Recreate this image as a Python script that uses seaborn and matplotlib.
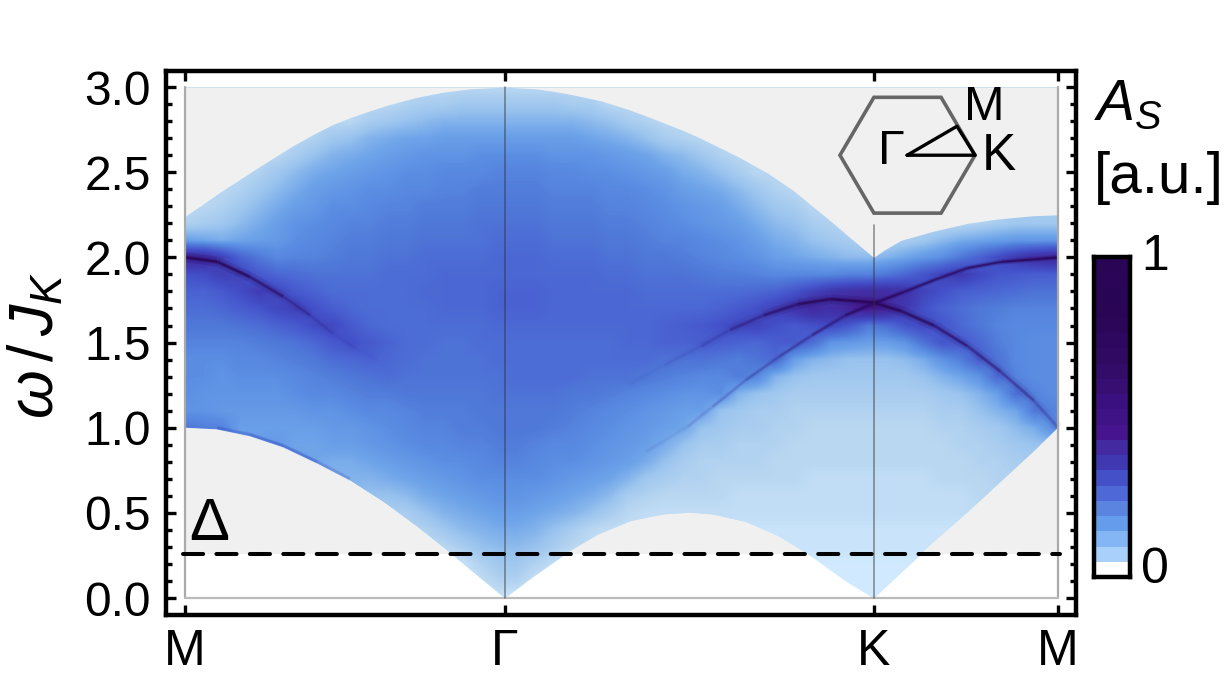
import numpy as np
import seaborn as sns
import matplotlib
matplotlib.use("Agg")
import matplotlib.pyplot as plt
from matplotlib.colors import LinearSegmentedColormap, ListedColormap, to_rgb
from matplotlib.patches import Rectangle
from matplotlib.ticker import MultipleLocator

# ---- values ----
tick_positions = [0.0, 0.866, 1.866, 2.366]
tick_names = ["M", "Γ", "K", "M"]
gap = 0.258

# intensity (percent), rows omega = 3.0 ... 0.0 in steps of 0.1, columns path = 0 ... 2.35 in steps of 0.05
field_rows = [
 [6]*48,
 [6]*11+[6,7,8,8,9,9,9,9,9,9,8,8,6],
 [6]*9+[6,8,9,10,11,12,12,12,12,12,12,12,12,11,10,8,7,6],
 [6]*6+[6,7,9,10,12,13,14,14,15,15,15,15,15,15,15,15,14,13,12,10,8,7,6],
 [6]*5+[6,8,10,12,13,14,15,16,17,17,17,18,18,18,18,17,17,17,16,15,14,12,11,9,7,6],
 [6]*3+[6,7,9,11,13,14,15,16,17,18,18,19,19,19,20,20,20,19,19,18,18,17,16,15,13,12,10,8,6],
 [6]*2+[6,7,9,11,13,15,16,17,18,18,19,19,20,20,21,21,21,21,20,20,20,19,19,18,17,15,14,13,11,9,7,6],
 [6,6,7,9,11,13,15,16,18,18,19,20,20,21,21,21,22,22,22,22,21,21,21,20,20,19,18,17,16,15,13,11,9,8,6,6,6,6,6,6,6,6,6,6,7,8,8,8],
 [7,8,9,11,13,15,17,18,19,20,20,21,21,22,22,22,23,23,23,23,22,22,22,21,21,20,19,18,17,16,15,13,11,10,8,7,6,6,6,6,6,6,6,7,8,9,9,9],
 [15,14,13,14,15,16,18,19,20,21,21,22,22,23,23,23,23,24,24,24,23,23,23,22,22,21,20,20,19,18,17,15,13,12,10,9,8,7,7,8,9,11,13,14,15,16,16,16],
 [42,41,34,26,22,19,20,20,21,22,22,23,23,24,24,24,24,25,25,25,24,24,24,23,23,22,22,21,20,19,18,17,15,14,13,12,11,11,12,14,16,18,22,26,31,36,40,42],
 [30,31,34,33,28,25,24,23,23,23,23,24,24,24,25,25,25,25,25,25,25,25,25,24,24,23,23,23,22,21,21,20,19,19,19,19,20,20,22,25,29,33,36,32,29,28,27,27],
 [26,26,28,31,35,32,28,26,24,24,24,24,24,25,25,25,25,26,26,26,25,25,25,25,25,24,24,24,24,24,24,25,26,29,33,37,39,40,40,38,33,30,27,26,25,24,23,23],
 [24,24,25,27,29,32,34,30,27,25,24,24,24,24,25,25,25,26,26,26,25,25,25,25,25,25,25,25,25,26,28,30,34,38,42,40,44,48,44,36,30,26,24,22,21,20,20,20],
 [22,22,22,23,24,26,28,31,32,28,25,24,24,24,24,24,24,25,25,25,25,25,25,25,25,25,26,27,28,30,32,33,30,28,30,32,28,22,24,29,32,29,25,22,20,19,19,19],
 [20,20,20,20,21,22,23,25,28,30,28,26,24,24,23,23,24,24,24,24,24,24,24,24,25,25,26,26,27,27,26,25,27,28,24,17,16,15,15,17,23,29,28,25,21,19,18,18],
 [18,18,18,19,19,20,21,22,24,25,26,25,24,23,23,23,23,24,24,24,24,24,24,24,24,24,23,23,23,22,21,23,25,15,12,11,10,10,10,11,13,17,21,27,23,19,18,18],
 [18,18,17,18,18,18,19,20,21,22,23,24,23,23,23,23,23,23,24,24,24,24,23,23,23,22,21,20,19,19,21,19,12,10,9,9,9,9,9,9,10,12,14,17,25,20,18,18],
 [18,17,17,17,17,17,18,19,19,20,21,21,22,22,22,22,22,23,23,23,23,22,22,21,20,19,18,17,17,18,12,10,9,8,8,8,8,8,8,8,8,9,10,12,15,24,20,18],
 [17,17,16,16,16,16,16,17,17,18,19,19,20,21,21,21,22,22,22,22,22,21,20,19,18,17,16,15,15,10,9,8,8,7,7,7,7,7,7,7,7,8,8,10,12,14,22,20],
 [22,21,20,15,15,15,15,15,16,16,17,18,19,20,20,21,21,22,22,22,21,20,19,18,17,16,15,14,10,9,8,8,7,7,6,6,6,6,6,6,6,7,7,8,9,11,13,18],
 [15,15,15,15,15,16,14,14,15,15,16,17,18,19,19,20,20,21,21,20,19,19,18,17,16,15,13,10,8,8,7,7,7,6,6,6,6,6,6,6,6,6,7,7,8,9,10,10],
 [15,15,15,15,15,15,15,14,13,13,14,15,16,17,18,18,19,20,20,19,18,18,17,16,15,13,10,8,7,7,7,7,6,6,6,6,6,6,6,6,6,6,6,7,7,8,8,8],
 [13]*8+[12,12,12,13,14,15,16,17,18,18,18,18,17,16,15,14,12,9,8,7,7,6,6,6,6,6,5,5,5,5,5,5,5,6,6,6,7,7,7,7],
 [11]*10+[10,10,11,13,14,15,16,17,17,16,15,14,13,11,8,7,6,6,6,6,5,5,5,5,5,5,5,5,5,5,5,5,5,6,6,6,6,6],
 [9]*11+[8,8,10,12,13,14,15,15,14,13,12,10,8,6]+[5]*23,
 [7]*13+[7,9,11,12,13,13,12,10,8,6,5,5]+[4]*23,
 [6]*15+[8,10,11,11,10,8,6,5]+[4]*25,
 [4]*16+[7,9,9,7,5,4]+[3]*26,
 [3]*16+[5,7,7,4]+[3]*28,
 [3]*17+[4]+[3]*30,
]
path_step = 0.05
omega_step = 0.1

# edges of the continuum
upper_x = [0,.05,.1,.15,.2,.266,.3,.35,.4,.447,.5,.55,.628,.7,.772,.866,.95,1.0,1.05,1.126,1.2,1.262,1.35,1.397,1.5,1.579,1.65,1.757,1.8,1.866,1.9,1.94,2.03,2.12,2.2,2.3,2.366]
upper_w = [2.24,2.315,2.39,2.46,2.53,2.62,2.665,2.725,2.78,2.82,2.86,2.895,2.94,2.97,2.99,3.0,2.99,2.975,2.955,2.92,2.87,2.82,2.745,2.70,2.59,2.495,2.39,2.20,2.12,2.0,2.05,2.10,2.155,2.20,2.225,2.245,2.25]
lower_x = [0,.087,.176,.266,.358,.447,.537,.628,.718,.81,.866,.936,1.026,1.118,1.207,1.297,1.37,1.43,1.52,1.61,1.70,1.79,1.866,1.94,2.03,2.12,2.21,2.30,2.366]
lower_w = [1.0,.99,.95,.885,.79,.69,.565,.42,.265,.10,0,.115,.252,.37,.45,.49,.50,.49,.445,.36,.24,.10,0,.15,.33,.50,.68,.86,1.0]

# sharp ridges: path position, omega, strength
ridge_left_x = [0,.087,.176,.266,.339,.40,.46,.52]
ridge_left_w = [2.0,1.975,1.885,1.77,1.66,1.556,1.47,1.40]
ridge_left_s = [1,1,.9,.65,.4,.2,.08,.02]
ridge_a_x = [1.20,1.30,1.40,1.477,1.568,1.66,1.75,1.866,1.94,2.03,2.12,2.21,2.30,2.366]
ridge_a_w = [1.25,1.37,1.48,1.574,1.66,1.725,1.755,1.735,1.685,1.60,1.48,1.33,1.16,1.0]
ridge_a_s = [.02,.06,.2,.4,.7,.9,1,1,.95,.85,.7,.6,.45,.25]
ridge_b_x = [1.25,1.362,1.43,1.52,1.61,1.70,1.79,1.866,1.94,2.03,2.12,2.21,2.366]
ridge_b_w = [.86,1.006,1.123,1.28,1.417,1.544,1.66,1.73,1.79,1.867,1.937,1.973,2.0]
ridge_b_s = [.03,.1,.2,.3,.4,.55,.8,1,.9,.85,.85,.95,1]
ridge_edge_x = [.087,.176,.266,.358,.447]
ridge_edge_w = [1.0,.96,.895,.80,.70]
ridge_edge_s = [.2,.35,.4,.3,.1]

# inset Brillouin zone (in plot units)
hex_x = [2.141,2.049,1.867,1.775,1.867,2.049,2.141]
hex_w = [2.60,2.94,2.94,2.60,2.26,2.26,2.60]
path_x = [1.957,2.141,2.092,1.957]
path_w = [2.60,2.60,2.77,2.60]

# colour levels
bar_levels = ["#ffffff","#a9d0fa","#84b6f6","#659cec","#5b83e0","#4e68d8","#4350c8","#4038b0",
              "#432aa0","#47148f","#3f1285","#3a1080","#380e72","#330c6a","#300a62","#2e085e",
              "#2c0658","#2a0555","#290555","#2b0558","#2a0555"]
map_nodes = [0,3,6,10,14,18,22,26,30,36,42,48,55,70,100]
map_colors = ["#ffffff","#cfe9fe","#b9d7f1","#98c2ee","#6ea4e9","#5b8ee3","#4f78d8","#4a62d2",
              "#4350c8","#4038b0","#432aa0","#47148f","#3f1285","#320c64","#240040"]

# ---- figure ----
sns.set_theme(style="ticks")
plt.rcParams["font.family"] = ["Liberation Sans", "DejaVu Sans"]
plt.rcParams["text.color"] = "black"
plt.rcParams["mathtext.fontset"] = "custom"
plt.rcParams["mathtext.rm"] = "Liberation Sans"
plt.rcParams["mathtext.it"] = "Liberation Sans:italic"
plt.rcParams["mathtext.bf"] = "Liberation Sans:bold"

W, H = 1225, 691
fig = plt.figure(figsize=(W/100, H/100), dpi=100, facecolor="white")
ax = fig.add_axes([166/W, 1-615/H, 910/W, 544/H])
ax.set_facecolor("white")

Z = np.array([(r + [r[-1]]*48)[:48] for r in field_rows], dtype=float)
cmap = LinearSegmentedColormap.from_list("as", [(n/100, c) for n, c in zip(map_nodes, map_colors)], N=512)
ext = (-path_step/2, 47*path_step+path_step/2, -omega_step/2, 3+omega_step/2)
im = ax.imshow(Z, origin="upper", extent=ext, aspect="auto", cmap=cmap, vmin=0, vmax=100,
               interpolation="bilinear", zorder=1)
im.set_clip_path(Rectangle((0, 0), 2.366, 3.0, transform=ax.transData))

# regions outside the continuum
GRAY = "#f0f0f0"
lx, lw_ = np.array(lower_x), np.array(lower_w)
ax.fill_between(upper_x, upper_w, 3.0, color=GRAY, lw=0, zorder=2)
ax.fill_between(lx, 0, lw_, color="white", lw=0, zorder=2)
ax.fill_between(lx, gap, lw_, where=lw_ > gap, interpolate=True, color=GRAY, lw=0, zorder=2.1)


def ridge(xs, ws, ss, color="#2a0558", faint="#3838b0", core=1.7, halo=7.0):
    dark, pale = np.array(to_rgb(color)), np.array(to_rgb(faint))
    for i in range(len(xs)-1):
        s = (ss[i]+ss[i+1])/2
        c = tuple(pale + (dark-pale)*s)
        for lw, a in ((halo, 0.18*s), (core*2.0, 0.3*s), (core, 0.85*s)):
            sns.lineplot(x=xs[i:i+2], y=ws[i:i+2], ax=ax, color=c, lw=lw, alpha=a, sort=False,
                         estimator=None, legend=False, zorder=3, solid_capstyle="butt")


ridge(ridge_left_x, ridge_left_w, ridge_left_s)
ridge(ridge_a_x, ridge_a_w, ridge_a_s)
ridge(ridge_b_x, ridge_b_w, ridge_b_s, core=1.3, halo=4.0)
ridge(ridge_edge_x, ridge_edge_w, ridge_edge_s, color="#3040c0", faint="#3040c0", core=1.5, halo=2.5)

# grid-like reference lines
ax.plot([0, 0], [0, 3], color="#aaaaaa", lw=1.6, zorder=4)
ax.plot([2.366, 2.366], [0, 3], color="#aaaaaa", lw=1.6, zorder=4)
ax.plot([0, 2.366], [0, 0], color="#bbbbbb", lw=1.6, zorder=4)
ax.plot([.866, .866], [0, 3], color="#303030", lw=1.2, alpha=.5, zorder=4)
ax.plot([1.866, 1.866], [0, 2.19], color="#303030", lw=1.2, alpha=.5, zorder=4)

# gap line
ax.plot([-0.005, 2.37], [gap, gap], color="black", lw=2.9, linestyle=(0, (5.0, 3.3)),
        dash_capstyle="round", zorder=5)
ax.text(0.012, 0.43, "Δ", fontsize=43, color="black", ha="left", va="center", zorder=6)

# inset
ax.plot(hex_x, hex_w, color="#666666", lw=2.6, zorder=5, solid_joinstyle="miter")
ax.plot(path_x, path_w, color="black", lw=2.4, zorder=6)
ax.text(2.11, 2.88, "M", fontsize=35, ha="left", va="center", zorder=6)
ax.text(1.95, 2.62, "Γ", fontsize=35, ha="right", va="center", zorder=6)
ax.text(2.158, 2.59, "K", fontsize=37, ha="left", va="center", zorder=6)

# axes
ax.set_xlim(-0.0515, 2.4146)
ax.set_ylim(-0.0998, 3.0945)
ax.set_xticks(tick_positions)
ax.set_xticklabels(tick_names)
ax.yaxis.set_major_locator(MultipleLocator(0.5))
ax.yaxis.set_minor_locator(MultipleLocator(0.1))
ax.yaxis.set_major_formatter(lambda v, p: f"{v:.1f}")
ax.tick_params(axis="both", which="major", direction="in", length=7, width=2.4, colors="black",
               top=True, right=True)
ax.tick_params(axis="y", which="minor", direction="in", length=4, width=2.4, color="black", right=True, left=True)
ax.tick_params(axis="y", which="major", pad=11, labelsize=34.5)
ax.tick_params(axis="x", which="major", pad=10, labelsize=36)
for s in ax.spines.values():
    s.set_linewidth(3.2)
    s.set_color("black")
    s.set_visible(True)
    s.set_zorder(10)

fig.text(36/W, 1-345/H, r"$\omega\,/\,J_K$", fontsize=45, rotation=90, ha="center", va="center")
fig.text(1094/W, 1-105/H, r"$A_S$", fontsize=41, ha="left", va="center")
fig.text(1094/W, 1-178/H, "[a.u.]", fontsize=42, ha="left", va="center")

# colour bar drawn as a one-column heatmap
cax = fig.add_axes([1094/W, 1-577/H, 36/W, 320/H])
levels = np.arange(len(bar_levels))[::-1].reshape(-1, 1)
sns.heatmap(levels, ax=cax, cmap=ListedColormap(bar_levels), cbar=False, xticklabels=False, yticklabels=False)
for s in cax.spines.values():
    s.set_visible(True)
    s.set_linewidth(3.2)
    s.set_color("black")
fig.text(1141/W, 1-257/H, "1", fontsize=36, ha="left", va="center")
fig.text(1141/W, 1-570/H, "0", fontsize=36, ha="left", va="center")

fig.savefig("out.png", dpi=100, facecolor="white")
